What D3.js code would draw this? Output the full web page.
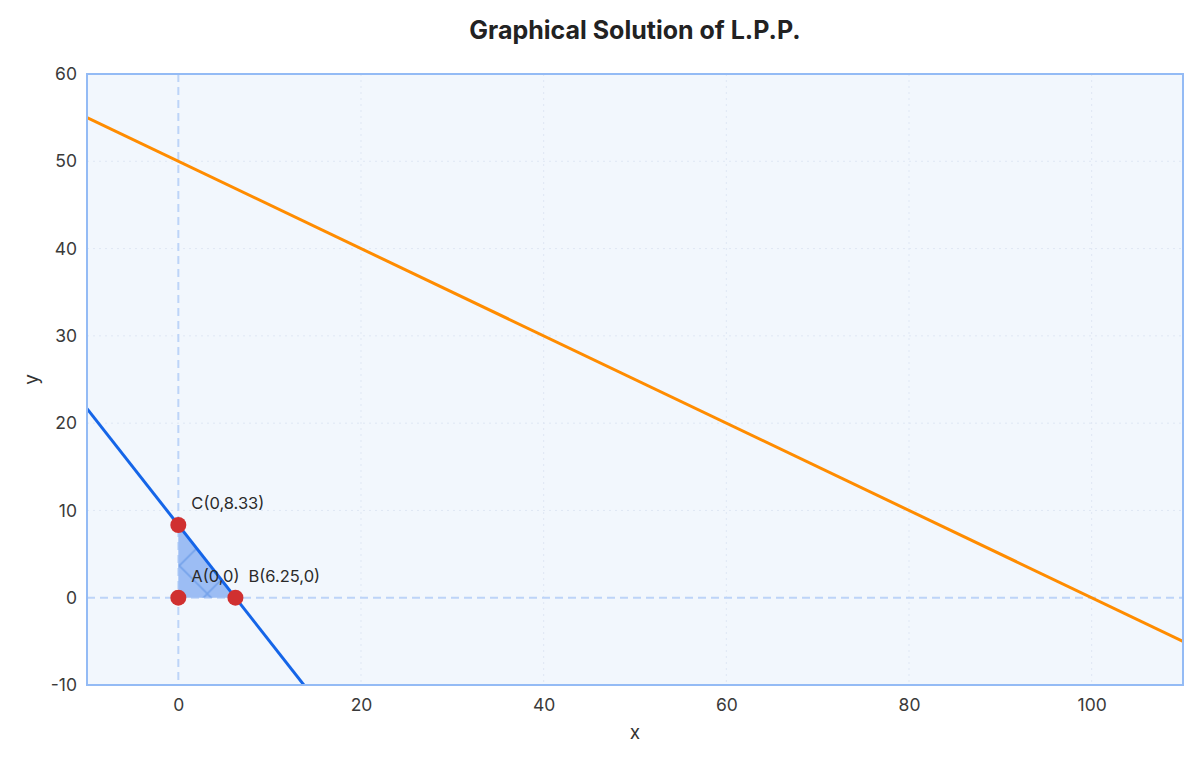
<!DOCTYPE html>
<html>
<head>
<meta charset="utf-8">
<script src="https://cdn.jsdelivr.net/npm/d3@7"></script>
<style>
  body { margin: 0; background: #fff; }
  svg { font-family: Inter, "Noto Sans", sans-serif; }
</style>
</head>
<body>
<svg id="chart" width="1200" height="761"></svg>
<script>
// constraint lines, as two end points each (x from -10 to 110)
const line1 = [{ x: -10, y: 65 / 3 }, { x: 110, y: -415 / 3 }]; // 4x + 3y = 25
const line2 = [{ x: -10, y: 55 }, { x: 110, y: -5 }];          // x + 2y = 100
const region = [{ x: 0, y: 0 }, { x: 6.25, y: 0 }, { x: 0, y: 25 / 3 }];
const corners = [
  { name: "A(0,0)", x: 0, y: 0 },
  { name: "B(6.25,0)", x: 6.25, y: 0 },
  { name: "C(0,8.33)", x: 0, y: 25 / 3 }
];
const xTicks = [0, 20, 40, 60, 80, 100];
const yTicks = [-10, 0, 10, 20, 30, 40, 50, 60];

const svg = d3.select("#chart");
const margin = { top: 74, right: 17, bottom: 76, left: 87 };
const width = 1200 - margin.left - margin.right;
const height = 761 - margin.top - margin.bottom;

const x = d3.scaleLinear().domain([-10, 110]).range([0, width]);
const y = d3.scaleLinear().domain([-10, 60]).range([height, 0]);

const defs = svg.append("defs");
defs.append("clipPath").attr("id", "clip")
  .append("rect").attr("width", width).attr("height", height);

const s = 56;
const pat = defs.append("pattern")
  .attr("id", "hatch")
  .attr("patternUnits", "userSpaceOnUse")
  .attr("x", margin.left + x(0) - 2).attr("y", margin.top + y(0) - 22)
  .attr("width", s).attr("height", s);
pat.append("rect").attr("width", s).attr("height", s).attr("fill", "#9cbdf4");
pat.append("path").attr("d", `M0,${s} L${s},0 M0,0 L${s},${s}`)
  .attr("stroke", "#74a2ea").attr("stroke-width", 1.6);

svg.append("text")
  .attr("x", margin.left + width / 2).attr("y", 39)
  .attr("text-anchor", "middle")
  .attr("font-size", 25).attr("font-weight", 700)
  .attr("fill", "#222")
  .text("Graphical Solution of L.P.P.");

const g = svg.append("g").attr("transform", `translate(${margin.left},${margin.top})`);

g.append("rect").attr("width", width).attr("height", height).attr("fill", "#f2f7fd");

// grid
g.append("g").selectAll("line").data(xTicks.filter(d => d !== 0)).join("line")
  .attr("x1", d => x(d)).attr("x2", d => x(d)).attr("y1", 0).attr("y2", height)
  .attr("stroke", "#dfe7f4").attr("stroke-dasharray", "2,4");
g.append("g").selectAll("line").data(yTicks.filter(d => d !== 0)).join("line")
  .attr("y1", d => y(d)).attr("y2", d => y(d)).attr("x1", 0).attr("x2", width)
  .attr("stroke", "#dfe7f4").attr("stroke-dasharray", "2,4");

// zero lines
g.append("line").attr("x1", x(0)).attr("x2", x(0)).attr("y1", 0).attr("y2", height)
  .attr("stroke", "#bdd4f8").attr("stroke-width", 2).attr("stroke-dasharray", "8,5");
g.append("line").attr("y1", y(0)).attr("y2", y(0)).attr("x1", 0).attr("x2", width)
  .attr("stroke", "#bdd4f8").attr("stroke-width", 2).attr("stroke-dasharray", "8,5");

const line = d3.line().x(d => x(d.x)).y(d => y(d.y));

// feasible region
g.append("path").datum(region)
  .attr("d", d => line(d) + "Z")
  .attr("fill", "url(#hatch)");

const plot = g.append("g").attr("clip-path", "url(#clip)");
plot.append("path").datum(line1).attr("d", line)
  .attr("fill", "none").attr("stroke", "#1565e8").attr("stroke-width", 3);
plot.append("path").datum(line2).attr("d", line)
  .attr("fill", "none").attr("stroke", "#ff8c00").attr("stroke-width", 3);

// corner points
g.selectAll("circle").data(corners).join("circle")
  .attr("cx", d => x(d.x)).attr("cy", d => y(d.y)).attr("r", 8)
  .attr("fill", "#d03030");
g.selectAll(".lbl").data(corners).join("text")
  .attr("class", "lbl")
  .attr("x", d => x(d.x) + 13).attr("y", d => y(d.y) - 16)
  .attr("font-size", 16.5).attr("fill", "#2a2a2a")
  .text(d => d.name);

// frame
g.append("rect").attr("width", width).attr("height", height)
  .attr("fill", "none").attr("stroke", "#94bbf5").attr("stroke-width", 2);

// axes
const xAxis = g.append("g").attr("transform", `translate(0,${height})`)
  .call(d3.axisBottom(x).tickValues(xTicks).tickFormat(d => String(d)).tickSize(0).tickPadding(14));
const yAxis = g.append("g")
  .call(d3.axisLeft(y).tickValues(yTicks).tickFormat(d => String(d)).tickSize(0).tickPadding(10));
[xAxis, yAxis].forEach(a => {
  a.select(".domain").remove();
  a.selectAll("text").attr("font-size", 17.5).attr("fill", "#3a3a3a")
    .attr("font-family", "Inter, sans-serif");
});

svg.append("text").attr("x", margin.left + width / 2).attr("y", 739)
  .attr("text-anchor", "middle").attr("font-size", 19).attr("fill", "#333").text("x");
svg.append("text").attr("transform", `translate(38,${margin.top + height / 2}) rotate(-90)`)
  .attr("text-anchor", "middle").attr("font-size", 19).attr("fill", "#333").text("y");
</script>
</body>
</html>
